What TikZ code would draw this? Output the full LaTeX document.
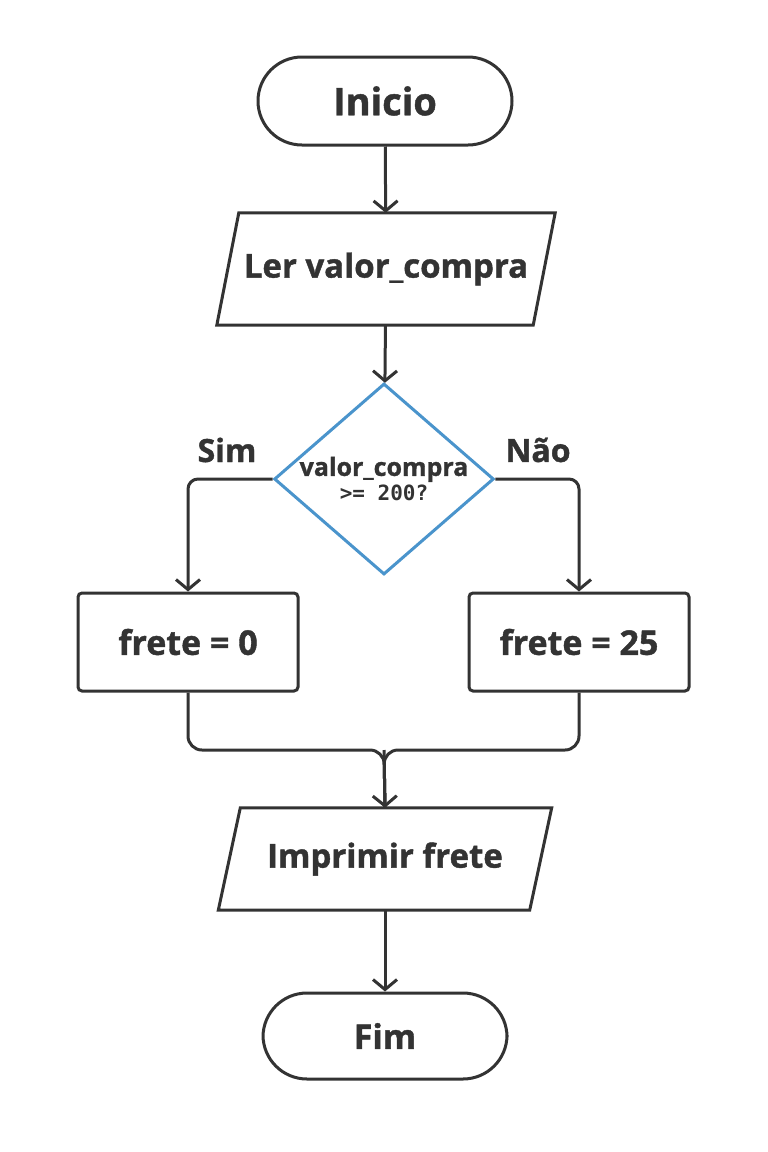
\documentclass[tikz,border=0pt]{standalone}
\usepackage{fontspec}
\setmainfont{Open Sans}[FakeBold=1.2]
\setmonofont{DejaVu Sans Mono}
\usetikzlibrary{arrows.meta,shapes.geometric,calc}
\definecolor{ink}{HTML}{333333}
\definecolor{blu}{HTML}{4A94CC}
\begin{document}
\begin{tikzpicture}[x=1pt,y=-1pt,
  every node/.style={text=ink},
  base/.style={draw=ink,line width=3pt,font=\fontsize{34}{38}\selectfont\bfseries},
  term/.style={base,rounded corners=44pt,minimum width=254pt,minimum height=88pt},
  io/.style={font=\fontsize{33}{38}\selectfont\bfseries,minimum width=338pt,minimum height=112pt,inner sep=0pt},
  proc/.style={base,rounded corners=4pt,minimum width=220pt,minimum height=98pt},
  dec/.style={draw=blu,line width=3pt,diamond,aspect=1.15,minimum width=216pt,minimum height=188pt,inner sep=0pt,font=\fontsize{25}{26}\selectfont\bfseries,align=center},
  ar/.style={draw=ink,line width=3pt,-{Straight Barb[length=10pt,width=24pt,line width=3pt]}},
  ln/.style={draw=ink,line width=3pt},
  lab/.style={font=\fontsize{32}{36}\selectfont\bfseries}]
\useasboundingbox (0,0) rectangle (768,1152);
\fill[white] (0,0) rectangle (768,1152);
\node[term,font=\fontsize{38}{40}\selectfont\bfseries] (ini) at (385,101) {Inicio};
\node[io] (ler) at (386,269) {Ler valor\_compra};
\draw[ln,line join=miter] ($(ler.north west)+(22,0)$) -- (ler.north east) -- ($(ler.south east)+(-22,0)$) -- (ler.south west) -- cycle;
\node[dec] (d) at (384,479) {valor\_compra\\[-1pt]{\ttfamily\fontsize{21}{24}\selectfont >= 200?}};
\node[proc] (f0) at (188,642) {frete = 0};
\node[proc] (f25) at (579,642) {frete = 25};
\node[io,minimum width=333pt,minimum height=102pt] (imp) at (385,859) {Imprimir frete};
\draw[ln] ($(imp.north west)+(22,0)$) -- (imp.north east) -- ($(imp.south east)+(-22,0)$) -- (imp.south west) -- cycle;
\node[term,minimum width=244pt,minimum height=86pt] (fim) at (385,1036) {Fim};
\node[lab] (sim) at (227,450) {Sim};
\node[lab] (nao) at (538,450) {Não};
\coordinate (j) at (384,750);
\draw[ar] (ini) -- (ler);
\draw[ar] (ler) -- (d);
\draw[ar,rounded corners=10pt] (d.west) -| (f0.north);
\draw[ar,rounded corners=10pt] (d.east) -| (f25.north);
\draw[ln,rounded corners=14pt] (f0.south) |- (j) -- (imp.north);
\draw[ln,rounded corners=14pt] (f25.south) |- (j) -- (imp.north);
\draw[ar] (j) -- (imp.north);
\draw[ar] (imp) -- (fim);
\end{tikzpicture}
\end{document}
